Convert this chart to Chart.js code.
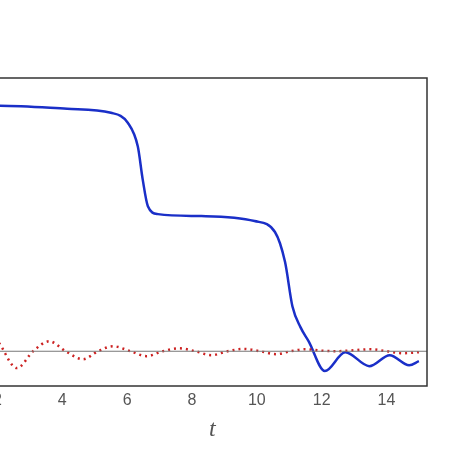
<!DOCTYPE html>
<html>
<head>
<script src="https://cdn.jsdelivr.net/npm/chart.js@4"></script>
<style>
body { margin: 0; background: #fff; overflow: hidden; }
#wrap { position: absolute; left: -12px; top: 0; width: 486px; height: 474px; }
</style>
</head>
<body>
<div id="wrap"><canvas id="myChart"></canvas></div>
<script>
const blueT = [1.9, 2.08, 4.15, 5.5, 6.02, 6.33, 6.48, 6.64, 6.95, 8.29, 9.93, 10.56, 10.87, 11.1, 11.35, 11.6, 12.1, 12.73, 13.47, 14.1, 14.7, 15.0];
const blueY = [2.47, 2.47, 2.44, 2.40, 2.30, 2.06, 1.73, 1.46, 1.38, 1.36, 1.31, 1.20, 0.90, 0.45, 0.24, 0.10, -0.20, -0.01, -0.15, -0.04, -0.14, -0.10];
const redT = [1.9, 2.0, 2.6, 3.1, 3.6, 4.1, 4.64, 5.1, 5.57, 6.1, 6.6, 7.1, 7.6, 8.1, 8.6, 9.1, 9.6, 10.1, 10.6, 11.05, 11.5, 12.0, 12.45, 13.0, 13.5, 14.0, 14.5, 15.0];
const redY = [0.12, 0.10, -0.17, 0.0, 0.10, 0.0, -0.08, 0.0, 0.05, 0.0, -0.05, 0.0, 0.03, 0.0, -0.04, 0.0, 0.023, 0.0, -0.03, 0.0, 0.02, 0.005, 0.0, 0.01, 0.02, 0.0, -0.02, -0.01];
const zeroT = [1.9, 15.25];
const zeroY = [0, 0];
const xTicks = [2, 4, 6, 8, 10, 12, 14];

function pts(xs, ys) { return xs.map((x, i) => ({ x: x, y: ys[i] })); }

const frame = {
  id: "frame",
  afterDatasetsDraw(chart) {
    const a = chart.chartArea, c = chart.ctx;
    c.save();
    c.strokeStyle = "#333";
    c.lineWidth = 1.5;
    c.strokeRect(a.left, a.top, a.right - a.left, a.bottom - a.top);
    c.restore();
  }
};

new Chart(document.getElementById("myChart"), {
  type: "line",
  data: {
    datasets: [
      { data: pts(zeroT, zeroY), borderColor: "#777", borderWidth: 1.2, pointRadius: 0 },
      { data: pts(redT, redY), borderColor: "#cc2222", borderWidth: 2.5, borderDash: [2, 4], pointRadius: 0, cubicInterpolationMode: "monotone" },
      { data: pts(blueT, blueY), borderColor: "#1a2fc8", borderWidth: 2.5, pointRadius: 0, cubicInterpolationMode: "monotone" }
    ]
  },
  options: {
    responsive: true,
    maintainAspectRatio: false,
    animation: false,
    layout: { padding: { left: 1, top: 78, right: 47, bottom: 30 } },
    plugins: { legend: { display: false }, tooltip: { enabled: false } },
    scales: {
      x: {
        type: "linear", min: 2, max: 15.25,
        afterBuildTicks: (s) => { s.ticks = xTicks.map(v => ({ value: v })); },
        grid: { display: false, drawTicks: false },
        border: { display: false },
        ticks: { color: "#555", font: { family: "Liberation Sans", size: 16 }, padding: 5 },
        title: { display: true, text: "t", color: "#555", font: { family: "Liberation Serif", size: 24, style: "italic" }, padding: { top: 0, bottom: 0 } }
      },
      y: { min: -0.35, max: 2.75, display: false }
    }
  },
  plugins: [frame]
});
</script>
</body>
</html>
